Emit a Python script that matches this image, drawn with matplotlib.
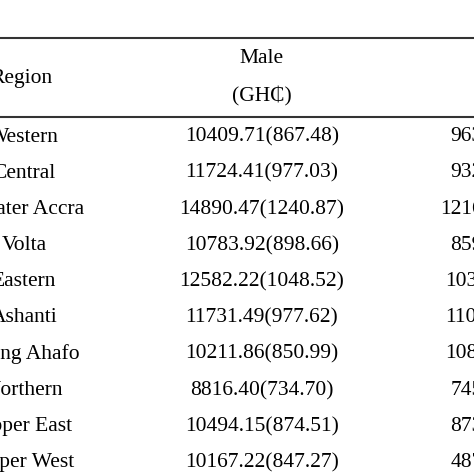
import matplotlib.pyplot as plt

regions = ['Western', 'Central', 'Greater Accra', 'Volta', 'Eastern', 'Ashanti',
           'Brong Ahafo', 'Northern', 'Upper East', 'Upper West']
male = ['10409.71(867.48)', '11724.41(977.03)', '14890.47(1240.87)', '10783.92(898.66)',
        '12582.22(1048.52)', '11731.49(977.62)', '10211.86(850.99)', '8816.40(734.70)',
        '10494.15(874.51)', '10167.22(847.27)']
# third column is cut off in the picture, only the first digits are visible
female = ['9632.15(802.68)', '9325.40(777.12)', '12160.33(1013.36)', '8592.74(716.06)',
          '10354.18(862.85)', '11002.57(916.88)', '10845.63(903.80)', '7458.21(621.52)',
          '8736.90(728.08)', '4873.55(406.13)']

plt.rcParams['font.family'] = 'Liberation Serif'
fig = plt.figure(figsize=(4.74, 4.74), dpi=100)
ax = fig.add_axes([0, 0, 1, 1])
ax.set_xlim(0, 474)
ax.set_ylim(474, 0)
ax.axis('off')

fs = 15.5
ax.plot([0, 474], [38, 38], color='#333333', lw=1.5)
ax.plot([0, 474], [117, 117], color='#333333', lw=1.5)
ax.text(22, 78, 'Region', ha='center', va='center', fontsize=fs)
ax.text(262, 58, 'Male', ha='center', va='center', fontsize=fs)
ax.text(262, 96, '(GH\u20B5)', ha='center', va='center', fontsize=fs)

y0, dy = 137, 36.2
for i in range(len(regions)):
    y = y0 + i * dy
    ax.text(24, y, regions[i], ha='center', va='center', fontsize=fs)
    ax.text(262, y, male[i], ha='center', va='center', fontsize=fs)
    ax.text(522, y, female[i], ha='center', va='center', fontsize=fs, clip_on=False)

fig.savefig('out.png', dpi=100)
